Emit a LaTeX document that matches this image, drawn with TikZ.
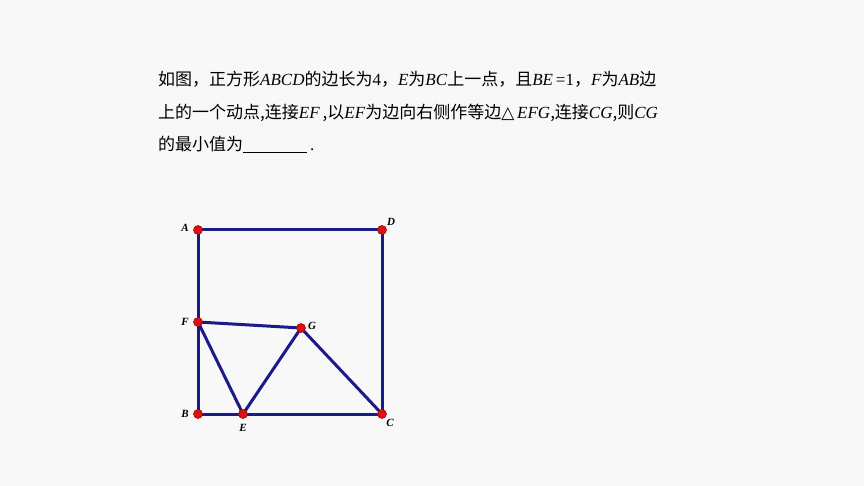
\documentclass[tikz,border=0pt]{standalone}
\usepackage{fontspec}
\setmainfont{Liberation Serif}
\newfontfamily\cjk{Noto Sans CJK SC}
\newfontfamily\symb{DejaVu Sans}
\usetikzlibrary{positioning}
\definecolor{bgcol}{HTML}{F8F8F8}
\definecolor{navy}{HTML}{1A1A88}
\definecolor{ptred}{HTML}{E01010}

\begin{document}
\begin{tikzpicture}[x=1pt,y=-1pt]
	\tikzstyle{edge} = [draw=navy,line width=3pt,line join=round]
	\tikzstyle{dot} = [draw=ptred!70!black,fill=ptred,circle,inner sep=0pt,minimum size=9pt,line width=0.6pt]
	\tikzstyle{lbl} = [font=\fontsize{11}{11}\selectfont\bfseries\itshape,inner sep=0pt]
	\tikzstyle{line} = [anchor=base west,inner sep=0pt,font=\fontsize{17}{17}\selectfont]

	\fill[bgcol] (0,0) rectangle (864,486);
	\useasboundingbox (0,0) rectangle (864,486);

	% problem text
	\node[line] at (158,86) (t1) {{\cjk 如图，正方形}\textit{ABCD}{\cjk 的边长为}4{\cjk ，}\textit{E}{\cjk 为}\textit{BC}{\cjk 上一点，且}\textit{BE}\,=1{\cjk ，}\textit{F}{\cjk 为}\textit{AB}{\cjk 边}};
	\node[line] at (158,119) (t2) {{\cjk 上的一个动点,连接}\textit{EF}\,{\cjk ,以}\textit{EF}{\cjk 为边向右侧作等边}{\symb △}\,\textit{EFG}{\cjk ,连接}\textit{CG}{\cjk ,则}\textit{CG}};
	\node[line] at (158,151) (t3) {{\cjk 的最小值为}\rule[-2pt]{64pt}{0.8pt}\,.};

	% points
	\coordinate (A) at (198,230);
	\coordinate (D) at (382,230);
	\coordinate (F) at (198,322);
	\coordinate (G) at (301,328);
	\coordinate (B) at (198,414);
	\coordinate (E) at (243,414);
	\coordinate (C) at (382,414);

	\draw[edge] (A) -- (D) -- (C) -- (B) -- cycle;
	\draw[edge] (F) -- (G) -- (E) -- cycle;
	\draw[edge] (G) -- (C);

	\foreach \p in {A,D,F,G,B,E,C}
		\node[dot] at (\p) (d\p) {};

	\node[lbl] at (185,228) (lA) {A};
	\node[lbl] at (391,222) (lD) {D};
	\node[lbl] at (185,322) (lF) {F};
	\node[lbl] at (312,326) (lG) {G};
	\node[lbl] at (185,414) (lB) {B};
	\node[lbl] at (243,428) (lE) {E};
	\node[lbl] at (390,423) (lC) {C};
\end{tikzpicture}
\end{document}
